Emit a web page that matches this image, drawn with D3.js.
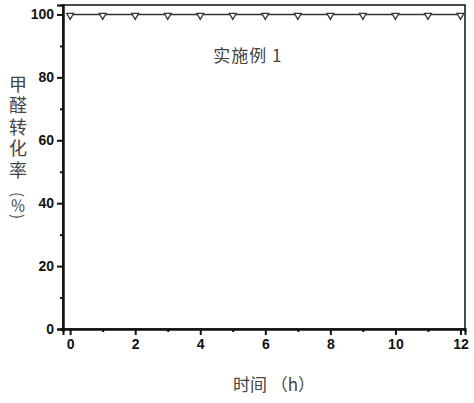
<!DOCTYPE html>
<html>
<head>
<meta charset="utf-8">
<script src="https://cdn.jsdelivr.net/npm/d3@7"></script>
<style>
  body { margin: 0; background: #fff; }
  .tick text { font-family: Arial, "Liberation Sans", sans-serif; font-weight: bold; font-size: 14px; fill: #111; }
  .cjk { font-family: "Noto Sans CJK SC", sans-serif; fill: #444; }
  .vert { writing-mode: vertical-rl; }
</style>
</head>
<body>
<div id="chart"></div>
<script>
var svgWidth = 474;
var svgHeight = 403;

var margin = { top: 5, right: 9, bottom: 74, left: 63 };
var width = svgWidth - margin.left - margin.right;
var height = svgHeight - margin.top - margin.bottom;

// data
var hours = [0, 1, 2, 3, 4, 5, 6, 7, 8, 9, 10, 11, 12];
var conversion = [100, 100, 100, 100, 100, 100, 100, 100, 100, 100, 100, 100, 100];
var xTicks = [0, 2, 4, 6, 8, 10, 12];
var yTicks = [0, 20, 40, 60, 80, 100];
var seriesName = "实施例 1";
var xLabel = "时间 （h）";
var yLabelMain = "甲醛转化率";
var yLabelUnit = "(％)";

var svg = d3.select("#chart")
  .append("svg")
  .attr("width", svgWidth)
  .attr("height", svgHeight);

var chartGroup = svg.append("g")
  .attr("transform", `translate(${margin.left}, ${margin.top})`);

var x = d3.scaleLinear().domain([-0.22, 12.14]).range([0, width]);
var y = d3.scaleLinear().domain([0, 103]).range([height, 0]);

// frame
chartGroup.append("rect")
  .attr("width", width)
  .attr("height", height)
  .attr("fill", "none")
  .attr("stroke", "#111")
  .attr("stroke-width", 1.5);

// minor ticks
var xMinor = chartGroup.append("g")
  .attr("transform", `translate(0, ${height})`)
  .call(d3.axisBottom(x).tickValues([1, 3, 5, 7, 9, 11]).tickSize(3).tickFormat(""));
var yMinor = chartGroup.append("g")
  .call(d3.axisLeft(y).tickValues([10, 30, 50, 70, 90]).tickSize(3).tickFormat(""));

var xAxis = chartGroup.append("g")
  .attr("transform", `translate(0, ${height})`)
  .call(d3.axisBottom(x).tickValues(xTicks).tickSize(6).tickPadding(4));
var yAxis = chartGroup.append("g")
  .call(d3.axisLeft(y).tickValues(yTicks).tickSize(6).tickPadding(3));

[xMinor, yMinor, xAxis, yAxis].forEach(function(g) {
  g.select(".domain").attr("stroke", "#111").attr("stroke-width", 2);
  g.selectAll(".tick line").attr("stroke", "#111").attr("stroke-width", 2);
});

// series line
var line = d3.line()
  .x(function(d, i) { return x(hours[i]); })
  .y(function(d) { return y(d); });

chartGroup.append("path")
  .datum(conversion)
  .attr("d", line)
  .attr("fill", "none")
  .attr("stroke", "#333")
  .attr("stroke-width", 1.5);

chartGroup.selectAll(".marker")
  .data(conversion)
  .enter()
  .append("path")
  .attr("class", "marker")
  .attr("d", d3.symbol().type(d3.symbolTriangle).size(20))
  .attr("transform", function(d, i) { return `translate(${x(hours[i])}, ${y(d) + 1}) rotate(180)`; })
  .attr("fill", "#fff")
  .attr("stroke", "#333")
  .attr("stroke-width", 1.3);

// legend label
chartGroup.append("text")
  .attr("class", "cjk")
  .attr("x", x(4.4))
  .attr("y", 57)
  .attr("font-size", "17px")
  .attr("letter-spacing", "1px")
  .text(seriesName);

// axis titles
svg.append("text")
  .attr("class", "cjk")
  .attr("x", 274)
  .attr("y", 391)
  .attr("text-anchor", "middle")
  .attr("font-size", "17px")
  .text(xLabel);

var yTitle = svg.append("text")
  .attr("class", "cjk vert")
  .attr("x", 18)
  .attr("y", 75);
yTitle.append("tspan")
  .attr("font-size", "18px")
  .attr("letter-spacing", "3.5px")
  .text(yLabelMain);
yTitle.append("tspan")
  .attr("font-size", "15px")
  .attr("letter-spacing", "1px")
  .attr("dy", 9)
  .text(yLabelUnit);
</script>
</body>
</html>
